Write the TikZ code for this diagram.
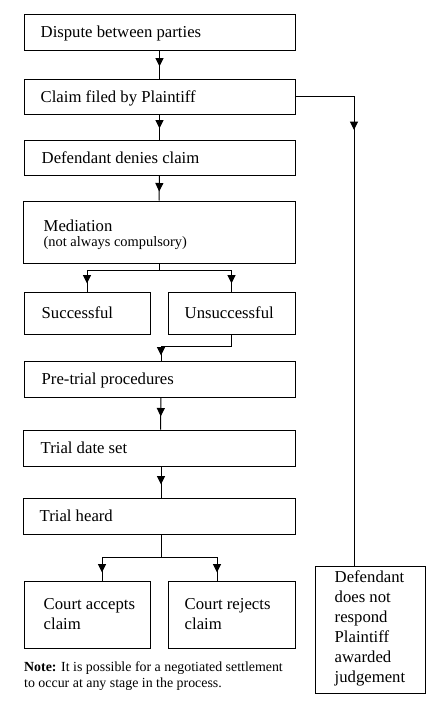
\documentclass[tikz,border=0pt]{standalone}
\usepackage{fontspec}
\setmainfont{Liberation Serif}
\usetikzlibrary{arrows.meta,decorations.markings}
\tikzset{
  box/.style={draw, line width=1pt, rectangle, inner sep=0pt, anchor=center},
  boxtext/.style={anchor=west, inner sep=0pt, align=left, font=\fontsize{16.7}{20}\selectfont},
  linetext/.style={boxtext, anchor=base west},
  conn/.style={line width=1pt},
  midarr/.style={conn, postaction={decorate}, decoration={markings,
    mark=at position #1 with {\arrow{Triangle[width=8pt,length=8.5pt]}}}}
}
\begin{document}
\begin{tikzpicture}[x=1pt,y=-1pt]
\useasboundingbox (0,0) rectangle (440,704);
\fill[white] (0,0) rectangle (440,704);
% boxes
\node[box, minimum width=271pt, minimum height=36pt] (b1) at (159.5,32) {};
\node[box, minimum width=271pt, minimum height=35pt] (b2) at (159.5,96.5) {};
\node[box, minimum width=271pt, minimum height=35pt] (b3) at (159.5,157.5) {};
\node[box, minimum width=272pt, minimum height=62pt] (med) at (159,232) {};
\node[box, minimum width=126pt, minimum height=42pt] (succ) at (87,313) {};
\node[box, minimum width=127pt, minimum height=42pt] (unsucc) at (231.5,313) {};
\node[box, minimum width=271pt, minimum height=36pt] (pre) at (159.5,379) {};
\node[box, minimum width=272pt, minimum height=36pt] (date) at (159,448) {};
\node[box, minimum width=272pt, minimum height=36pt] (heard) at (159,516) {};
\node[box, minimum width=126pt, minimum height=67pt] (acc) at (87,614.5) {};
\node[box, minimum width=127pt, minimum height=67pt] (rej) at (231.5,614.5) {};
\node[box, minimum width=110pt, minimum height=127pt] (def) at (370,629.5) {};
% texts
\node[linetext] (t1) at ([xshift=17pt,yshift=-5.5pt]b1.west) {Dispute between parties};
\node[linetext] (t2) at ([xshift=17pt,yshift=-5.5pt]b2.west) {Claim filed by Plaintiff};
\node[linetext] (t3) at ([xshift=18pt,yshift=-5.5pt]b3.west) {Defendant denies claim};
\node[linetext] (tmed) at ([xshift=21pt]med.west |- 0,231) {Mediation};
\node[linetext, font=\fontsize{14.4}{16}\selectfont] (tmed2) at ([xshift=21pt]med.west |- 0,246) {(not always compulsory)};
\node[linetext] (ts) at ([xshift=18pt,yshift=-5.5pt]succ.west) {Successful};
\node[linetext] (tu) at ([xshift=17pt,yshift=-5.5pt]unsucc.west) {Unsuccessful};
\node[linetext] (tp) at ([xshift=18pt,yshift=-5.5pt]pre.west) {Pre-trial procedures};
\node[linetext] (td) at ([xshift=18pt,yshift=-5.5pt]date.west) {Trial date set};
\node[linetext] (th) at ([xshift=17pt,yshift=-5.5pt]heard.west) {Trial heard};
\node[boxtext] (ta) at ([xshift=20pt]acc.west) {Court accepts\\claim};
\node[boxtext] (tr) at ([xshift=17pt]rej.west) {Court rejects\\claim};
\node[boxtext] (tdef) at ([xshift=20pt,yshift=1.5pt]def.west) {Defendant\\does not\\respond\\Plaintiff\\awarded\\judgement};
\node[anchor=north west, inner sep=0pt, align=left, font=\fontsize{13.9}{16}\selectfont] (note) at (24,662)
  {\textbf{Note:} It is possible for a negotiated settlement\\to occur at any stage in the process.};
% connectors
\draw[midarr=-12pt] (b1.south) -- (b2.north);
\draw[midarr=-11pt] (b2.south) -- (b3.north);
\draw[midarr=-9pt] (b3.south) -- (med.north);
\coordinate (rc) at (354,96.5);
\draw[midarr=92pt] (b2.east) -- (rc) -- (rc |- def.north);
\draw[midarr=-8pt] (med.south) -- ++(0,7) -| (succ.north);
\draw[midarr=-8pt] (med.south) -- ++(0,7) -| (unsucc.north);
\coordinate (pin) at ([xshift=1.5pt]pre.north);
\draw[midarr=-5pt] (unsucc.south) -- ++(0,12) -| (pin);
\coordinate (dout) at ([xshift=1.5pt]pre.south);
\coordinate (din) at ([xshift=1.5pt]date.north);
\draw[midarr=-13pt] (dout) -- (din);
\coordinate (hout) at ([xshift=2pt]date.south);
\coordinate (hin) at ([xshift=2pt]heard.north);
\draw[midarr=-13pt] (hout) -- (hin);
\coordinate (hs) at ([xshift=2pt]heard.south);
\coordinate (ain) at ([xshift=15pt]acc.north);
\coordinate (rin) at ([xshift=-14.5pt]rej.north);
\draw[midarr=-8pt] (hs) -- ++(0,23) -| (ain);
\draw[midarr=-8pt] (hs) -- ++(0,23) -| (rin);
\end{tikzpicture}
\end{document}
